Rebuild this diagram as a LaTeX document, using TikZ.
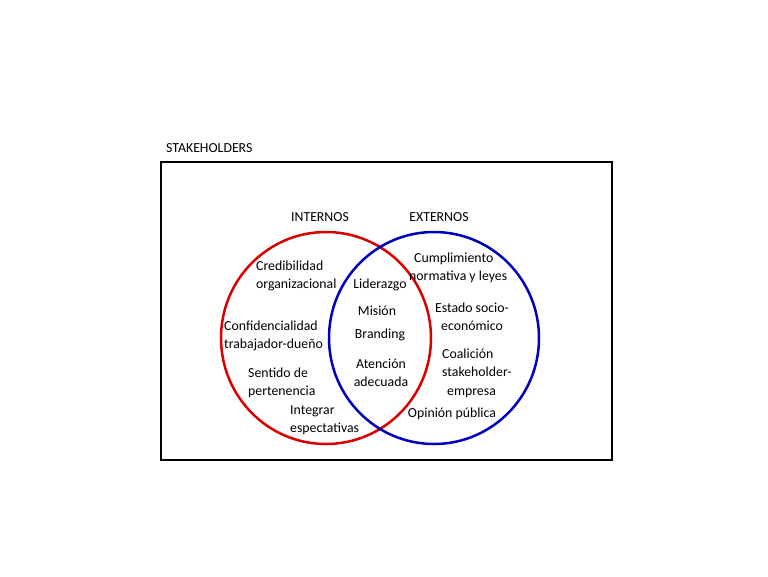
\documentclass[tikz,border=0pt]{standalone}
\usepackage{fontspec}
\setmainfont{Carlito}
\begin{document}
\begin{tikzpicture}[x=1pt,y=-1pt,
  lbl/.style={font=\fontsize{13.8}{18.5}\selectfont,align=center,inner sep=0pt},
  lbll/.style={lbl,align=left,anchor=west}]
\useasboundingbox (0,0) rectangle (768,576);
\node[draw=black,line width=2.5pt,minimum width=451pt,minimum height=298pt,inner sep=0pt] (frame) at (386.5,311) {};
\node[lbll] (title) at (166,148) {STAKEHOLDERS};
\draw[red!85!black,line width=2.5pt] (326,338) ellipse [x radius=105, y radius=106];
\draw[blue!75!black,line width=2.5pt] (434,338) ellipse [x radius=105, y radius=106];
\node[lbl] (int) at (320,217) {INTERNOS};
\node[lbl] (ext) at (439,217) {EXTERNOS};
\node[lbll] (cred) at (256,276) {Credibilidad\\organizacional};
\node[lbl] (lid) at (380,285) {Liderazgo};
\node[lbl] (mis) at (377,311) {Misión};
\node[lbl] (bra) at (380,335) {Branding};
\node[lbl] (ate) at (381,373) {Atención\\adecuada};
\node[lbll] (cum) at (409,268) {\hspace*{5pt}Cumplimiento\\normativa y leyes};
\node[lbl] (est) at (472,317) {Estado socio-\\económico};
\node[lbll] (conf) at (224,336) {Confidencialidad\\trabajador-dueño};
\node[lbll] (coa) at (442,373) {Coalición\\stakeholder-\\\hspace*{5pt}empresa};
\node[lbll] (sen) at (248,383) {Sentido de\\pertenencia};
\node[lbll] (integ) at (290,420) {Integrar\\espectativas};
\node[lbl] (opi) at (452,414) {Opinión pública};
\end{tikzpicture}
\end{document}
